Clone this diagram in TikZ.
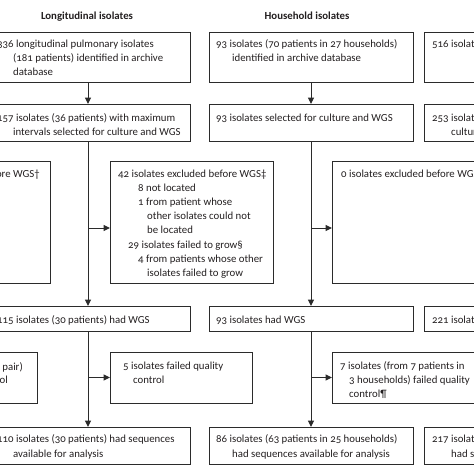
\documentclass[tikz,border=0pt]{standalone}
\usepackage{fontspec}
\setmainfont{Carlito}[Numbers=OldStyle]
\usetikzlibrary{arrows.meta}
\definecolor{linec}{HTML}{2B2B2B}
\definecolor{textc}{HTML}{231F20}
\newcommand{\mybox}[5]{\node[box, minimum width={(#4)-(#2)}, minimum height={(#5)-(#3)}] (#1) at ({((#2)+(#4))/2},{((#3)+(#5))/2}) {};}
\newcommand{\tline}[4]{\node[txt, anchor=base west] (#1) at (#2,#3) {#4};}
\newcommand{\tlinee}[4]{\node[txt, anchor=base east] (#1) at (#2,#3) {#4};}
\begin{document}
\begin{tikzpicture}[x=1pt,y=-1pt,
  box/.style={draw=linec, line width=1pt, rectangle, inner sep=0pt, outer sep=0pt},
  txt/.style={font=\fontsize{10.8}{14}\selectfont, inner sep=0pt, text=textc},
  ttl/.style={font=\fontsize{10.8}{14}\selectfont\bfseries, inner sep=0pt, text=textc, anchor=base},
  arr/.style={draw=linec, line width=1pt, -{Triangle[length=6.5pt,width=6pt]}}]
\useasboundingbox (0,0) rectangle (474,474);
\clip (0,0) rectangle (474,474);

% titles
\node[ttl] (ttl1) at (87,19) {Longitudinal isolates};
\node[ttl] (ttl2) at (307,19) {Household isolates};

% column 0 (mostly outside)
\mybox{l1}{-200}{161}{50}{283}
\tlinee{l1a}{40}{177.5}{isolates excluded before WGS†}
\mybox{l2}{-200}{352}{37}{403}
\tlinee{l2a}{23}{370.5}{(1 pair)}
\tlinee{l2b}{8}{383.5}{control}

% column 1
\mybox{a1}{-14}{32}{190}{82}
\tline{a1a}{-3}{47.5}{336 longitudinal pulmonary isolates}
\tline{a1b}{13}{61.5}{(181 patients) identified in archive}
\tline{a1c}{13}{75.5}{database}

\mybox{a2}{-14}{104}{190}{141}
\tline{a2a}{-3}{121}{157 isolates (36 patients) with maximum}
\tline{a2b}{13}{135}{intervals selected for culture and WGS}

\mybox{e1}{110}{161}{273}{283}
\tline{e1a}{118}{177.5}{42 isolates excluded before WGS‡}
\tline{e1b}{138}{191.6}{8 not located}
\tline{e1c}{138}{205.7}{1 from patient whose}
\tline{e1d}{147}{219.8}{other isolates could not}
\tline{e1e}{147}{233.9}{be located}
\tline{e1f}{128}{248}{29 isolates failed to grow§}
\tline{e1g}{138}{262.1}{4 from patients whose other}
\tline{e1h}{147}{276.2}{isolates failed to grow}

\mybox{a3}{-14}{306}{190}{331}
\tline{a3a}{-3}{323.5}{115 isolates (30 patients) had WGS}

\mybox{e2}{110}{352}{252}{403}
\tline{e2a}{123}{369.5}{5 isolates failed quality}
\tline{e2b}{133}{383.5}{control}

\mybox{a4}{-14}{427}{190}{464}
\tline{a4a}{-3}{442.5}{110 isolates (30 patients) had sequences}
\tline{a4b}{13}{457}{available for analysis}

% column 2
\mybox{b1}{209}{32}{413}{82}
\tline{b1a}{216}{47.5}{93 isolates (70 patients in 27 households)}
\tline{b1b}{232}{61.5}{identified in archive database}

\mybox{b2}{209}{104}{413}{141}
\tline{b2a}{216}{121}{93 isolates selected for culture and WGS}

\mybox{f1}{332}{161}{500}{283}
\tline{f1a}{341}{177.5}{0 isolates excluded before WGS}

\mybox{b3}{209}{306}{413}{331}
\tline{b3a}{216}{323.5}{93 isolates had WGS}

\mybox{f2}{332}{352}{500}{403}
\tline{f2a}{340}{369.5}{7 isolates (from 7 patients in}
\tline{f2b}{349}{383.5}{3 households) failed quality}
\tline{f2c}{349}{397.5}{control¶}

\mybox{b4}{209}{427}{413}{464}
\tline{b4a}{216}{442.5}{86 isolates (63 patients in 25 households)}
\tline{b4b}{232}{457}{had sequences available for analysis}

% column 3 (mostly outside)
\mybox{c1}{424}{32}{628}{82}
\tline{c1a}{432}{47.5}{516 isolates}
\mybox{c2}{424}{104}{628}{141}
\tline{c2a}{432}{121}{253 isolates selected for}
\tline{c2b}{451}{135}{culture and WGS}
\mybox{c3}{424}{306}{628}{331}
\tline{c3a}{432}{323.5}{221 isolates had WGS}
\mybox{c4}{424}{427}{628}{464}
\tline{c4a}{432}{442.5}{217 isolates}
\tline{c4b}{451}{457}{had sequences}

% connectors column 1
\draw[arr] (a1) -- (a2);
\draw[arr] (a2) -- (a3);
\coordinate (j1) at (88,228);
\draw[arr] (j1) -- (j1 -| e1.west);
\draw[arr] (a3) -- (a4);
\draw[arr] (a3.south |- e2.west) -- (e2.west);

% connectors column 2
\draw[arr] (b1) -- (b2);
\draw[arr] (b2) -- (b3);
\coordinate (j2) at (311,228);
\draw[arr] (j2) -- (j2 -| f1.west);
\draw[arr] (b3) -- (b4);
\draw[arr] (b3.south |- f2.west) -- (f2.west);
\end{tikzpicture}
\end{document}
